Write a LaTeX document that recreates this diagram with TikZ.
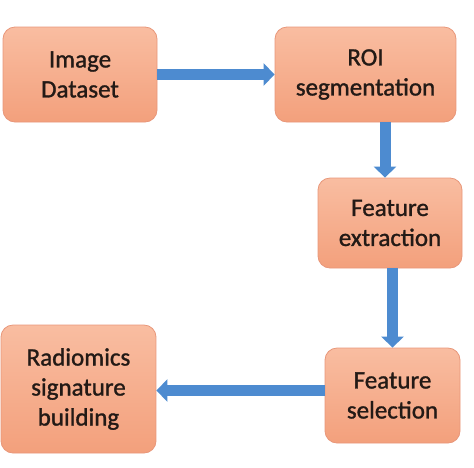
\documentclass[tikz,border=0pt]{standalone}
\usepackage{fontspec}
\setmainfont{Carlito}
\newfontfamily\boxfont[FakeBold=1.2]{Carlito}
\usetikzlibrary{arrows.meta}
\definecolor{boxtop}{HTML}{F9BDA1}
\definecolor{boxbot}{HTML}{F3A07C}
\definecolor{boxline}{HTML}{E8977A}
\definecolor{arrowblue}{HTML}{4D8BD0}
\definecolor{boxtext}{HTML}{231A16}
\tikzset{
  stepbox/.style={draw=boxline, line width=0.8pt, rounded corners=12pt,
    top color=boxtop, bottom color=boxbot, align=center,
    font=\boxfont\fontsize{25}{30}\selectfont, text=boxtext, inner sep=0pt},
  flow/.style={draw=arrowblue, line width=11pt,
    -{Triangle[width=22pt,length=11pt]}, arrowblue}
}
\begin{document}
\begin{tikzpicture}[x=1pt,y=-1pt]
\useasboundingbox (0,0) rectangle (474,467);
\node[stepbox, minimum width=154pt, minimum height=95pt] (b1) at (80,74.5) {Image\\Dataset};
\node[stepbox, minimum width=181pt, minimum height=95pt] (b2) at (365.5,74.5) {ROI\\segmentation};
\node[stepbox, minimum width=144pt, minimum height=90pt] (b3) at (390,223) {Feature\\extraction};
\node[stepbox, minimum width=135pt, minimum height=95pt] (b4) at (392.5,395.5) {Feature\\selection};
\node[stepbox, minimum width=155pt, minimum height=128pt] (b5) at (78.5,389) {Radiomics\\signature\\building};
\draw[flow] (b1.east) -- (b2.west);
\draw[flow] ([xshift=19.5pt]b2.south) -- ([xshift=19.5pt]b2.south |- b3.north);
\draw[flow] ([xshift=2.5pt]b3.south) -- ([xshift=2.5pt]b3.south |- b4.north);
\draw[flow] ([yshift=5pt]b4.west) -- ([yshift=5pt]b4.west -| b5.east);
\end{tikzpicture}
\end{document}
